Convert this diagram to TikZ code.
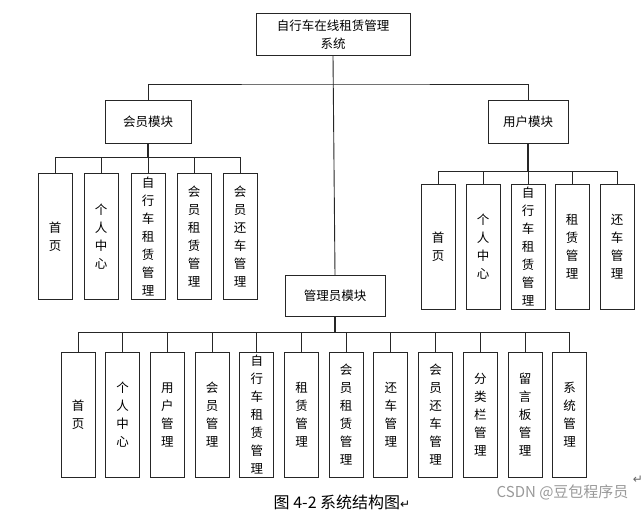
\documentclass[tikz,border=0pt]{standalone}
\usepackage{fontspec}
\setmainfont{Noto Sans CJK SC}
\newfontfamily\djv{DejaVu Sans}
\begin{document}
\begin{tikzpicture}[x=1pt,y=-1pt,
  bx/.style={draw=black!85,line width=0.9pt,inner sep=0pt,font=\fontsize{12.5}{18}\selectfont,align=center},
  leaf/.style={bx,minimum width=34pt,anchor=north},
  ln/.style={draw=black!85,line width=0.9pt}]
\useasboundingbox (0,0) rectangle (644,512);
\node[bx,minimum width=154pt,minimum height=42pt,anchor=north] (root) at (333,13) {自行车在线租赁管理\\系统};
\node[bx,minimum width=86pt,minimum height=43pt,anchor=north] (m) at (148,100) {会员模块};
\node[bx,minimum width=80pt,minimum height=43pt,anchor=north] (u) at (528,100) {用户模块};
\node[bx,minimum width=100pt,minimum height=41pt,anchor=north] (a) at (335,275) {管理员模块};
\coordinate (rj) at (333,84);
\draw[ln] (root.south) -- (a.north);
\draw[ln] (m.north) |- (rj) -| (u.north);
% member children
\foreach \x/\t [count=\i] in {55/首\\页,101/个\\人\\中\\心,148/自\\行\\车\\租\\赁\\管\\理,194/会\\员\\租\\赁\\管\\理,240/会\\员\\还\\车\\管\\理}{
  \node[leaf,minimum height=126pt] (mc\i) at (\x,173) {\t};
  \draw[ln] (mc\i.north) -- ++(0,-16) coordinate (mt\i);
}
\draw[ln] (mt1) -- (mt5);
\draw[ln,line width=1.4pt] (m.south) -- (148,157);
% user children
\foreach \x/\t [count=\i] in {438/首\\页,483/个\\人\\中\\心,528/自\\行\\车\\租\\赁\\管\\理,572/租\\赁\\管\\理,617/还\\车\\管\\理}{
  \node[leaf,minimum height=125pt] (uc\i) at (\x,184) {\t};
  \draw[ln] (uc\i.north) -- ++(0,-13) coordinate (ut\i);
}
\draw[ln] (ut1) -- (ut5);
\draw[ln,line width=1.4pt] (u.south) -- (528,171);
% admin children
\foreach \t [count=\i] in {首\\页,个\\人\\中\\心,用\\户\\管\\理,会\\员\\管\\理,自\\行\\车\\租\\赁\\管\\理,租\\赁\\管\\理,会\\员\\租\\赁\\管\\理,还\\车\\管\\理,会\\员\\还\\车\\管\\理,分\\类\\栏\\管\\理,留\\言\\板\\管\\理,系\\统\\管\\理}{
  \pgfmathsetmacro\xx{78+(\i-1)*44.7}
  \node[leaf,minimum height=125pt] (ac\i) at (\xx,352) {\t};
  \draw[ln] (ac\i.north) -- ++(0,-20) coordinate (at\i);
}
\draw[ln] (at1) -- (at12);
\draw[ln,line width=1.4pt] (a.south) -- (335,332);
\node[font=\fontsize{16}{16}\selectfont,anchor=north,inner sep=1pt] (cap) at (342,494) {图 4-2 系统结构图{\djv\fontsize{12}{12}\selectfont ↵}};
\node[font=\fontsize{15}{15}\selectfont,text=black!40,anchor=east] (wm) at (632,492) {CSDN @豆包程序员};
\node[font=\djv\fontsize{12}{12}\selectfont,text=black!60] (ret) at (638,480) {↵};
\end{tikzpicture}
\end{document}
